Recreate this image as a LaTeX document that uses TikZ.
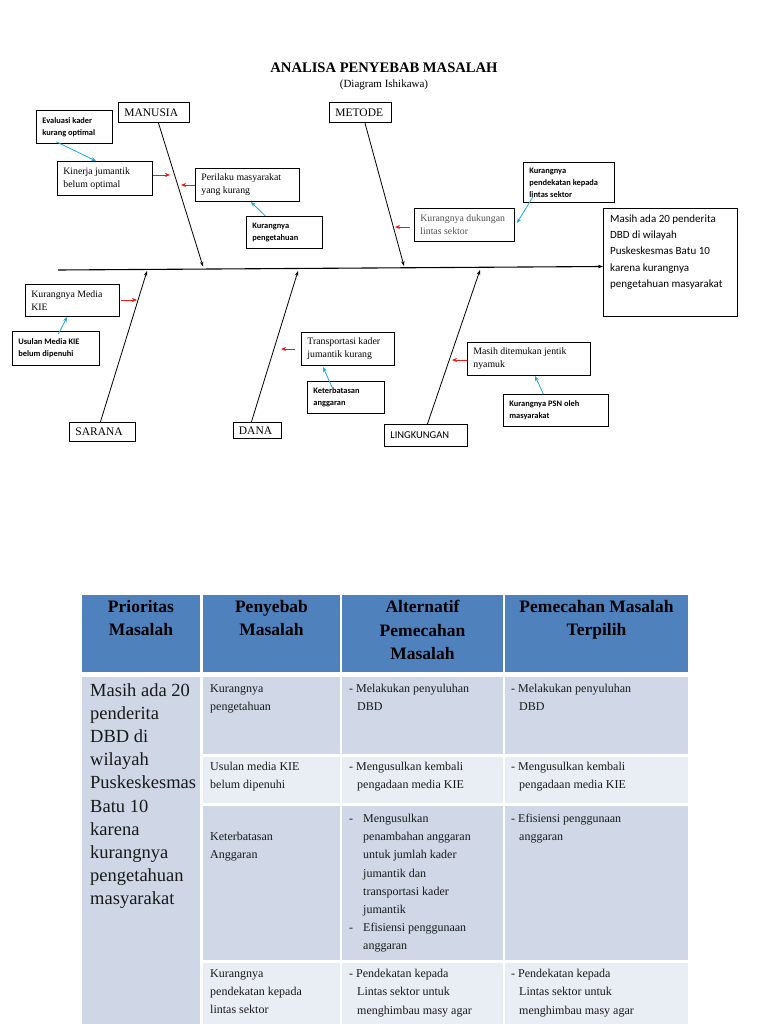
\documentclass[tikz,border=0pt]{standalone}
\usepackage{fontspec}
\setmainfont{Liberation Serif}
\newfontfamily\calib{Carlito}
\usetikzlibrary{arrows.meta}
\definecolor{hdrblue}{HTML}{4F81BD}
\definecolor{rowdark}{HTML}{D0D8E8}
\definecolor{rowlight}{HTML}{E9EDF4}
\definecolor{firstcol}{HTML}{CFD6E6}
\definecolor{cyanb}{HTML}{1AA7E0}
\definecolor{redb}{HTML}{F01818}
\definecolor{txtgray}{HTML}{505050}
\begin{document}
\begin{tikzpicture}[x=1pt,y=-1pt,
  box/.style={draw=black, line width=0.8pt, anchor=north west, inner xsep=6pt, inner ysep=0pt, align=flush left},
  tnr/.style={font=\fontsize{9.8}{13.3}\selectfont},
  cal/.style={font=\calib\bfseries\fontsize{8.4}{12}\selectfont},
  capt/.style={font=\fontsize{11.5}{13}\selectfont},
  bone/.style={line width=0.8pt, -{Stealth[length=5pt,width=3.5pt]}},
  redarr/.style={draw=redb, line width=0.8pt, -{Stealth[length=5pt,width=4pt]}},
  bluearr/.style={draw=cyanb, line width=0.8pt, -{Stealth[length=5pt,width=4pt]}},
  th/.style={anchor=north, inner sep=0pt, align=center, font=\bfseries\fontsize{17.5}{23.5}\selectfont},
  tb/.style={anchor=north west, inner sep=0pt, align=left, text=black!90, font=\fontsize{12}{18.3}\selectfont}
]
\useasboundingbox (0,0) rectangle (768,1024);
\clip (0,0) rectangle (768,1024);

% ---------- title ----------
\node[font=\bfseries\fontsize{14.6}{16}\selectfont] (title) at (384,68) {ANALISA PENYEBAB MASALAH};
\node[font=\fontsize{11}{13}\selectfont] (subtitle) at (384,85) {(Diagram Ishikawa)};

% ---------- boxes ----------
\node[box, capt, text width=59pt, minimum width=71pt, minimum height=20pt] (manusia) at (118,102) {MANUSIA};
\node[box, capt, text width=50pt, minimum width=62pt, minimum height=20pt] (metode) at (329,102) {METODE};
\node[box, capt, text width=54pt, minimum width=66pt, minimum height=19pt] (sarana) at (69,422) {SARANA};
\node[box, capt, text width=37pt, minimum width=48pt, minimum height=16pt, inner xsep=5.5pt] (dana) at (233,422) {DANA};
\node[box, font=\calib\fontsize{10.5}{12}\selectfont, text width=71pt, minimum width=83pt, minimum height=22pt] (lingk) at (384,424) {LINGKUNGAN};

\node[box, cal, text width=64pt, minimum width=76pt, minimum height=33pt] (evaluasi) at (36,110) {Evaluasi kader\\kurang optimal};
\node[box, tnr, text width=83pt, minimum width=95pt, minimum height=34pt] (kinerja) at (57,161) {Kinerja jumantik\\belum optimal};
\node[box, tnr, text width=92pt, minimum width=104pt, minimum height=33pt] (perilaku) at (195,168) {Perilaku masyarakat\\yang kurang};
\node[box, cal, text width=64pt, minimum width=76pt, minimum height=32pt] (kpeng) at (246,216) {Kurangnya\\pengetahuan};
\node[box, tnr, text=txtgray, text width=88pt, minimum width=100pt, minimum height=33pt] (kdukung) at (414,208) {Kurangnya dukungan\\lintas sektor};
\node[box, cal, text width=79pt, minimum width=91pt, minimum height=40pt] (kpendek) at (523,162) {Kurangnya\\pendekatan kepada\\lintas sektor};
\node[box, tnr, text width=82pt, minimum width=94pt, minimum height=32pt] (kmedia) at (25,284) {Kurangnya Media\\KIE};
\node[box, cal, text width=75pt, minimum width=87pt, minimum height=34pt] (usulan) at (12,331) {Usulan Media KIE\\belum dipenuhi};
\node[box, tnr, text width=81pt, minimum width=93pt, minimum height=33pt] (transp) at (301,332) {Transportasi kader\\jumantik kurang};
\node[box, cal, text width=65pt, minimum width=77pt, minimum height=32pt] (keterb) at (307,381) {Keterbatasan\\anggaran};
\node[box, tnr, text width=111pt, minimum width=123pt, minimum height=33pt] (masih) at (467,342) {Masih ditemukan jentik\\nyamuk};
\node[box, cal, text width=93pt, minimum width=105pt, minimum height=32pt] (psn) at (503,394) {Kurangnya PSN oleh\\masyarakat};

\node[box, minimum width=134pt, minimum height=108pt] (result) at (603,208) {};
\node[anchor=north west, inner sep=0pt, align=left, font=\calib\fontsize{11}{16.3}\selectfont] (resulttext) at (610,214.5)
  {Masih ada 20 penderita\\DBD di wilayah\\Puskeskesmas Batu 10\\karena kurangnya\\pengetahuan masyarakat};

% ---------- spine and bones ----------
\coordinate (spineL) at (58,270);
\coordinate (mEnd) at (203,266.5);
\coordinate (tEnd) at (404,266);
\coordinate (sEnd) at (147,271);
\coordinate (dEnd) at (298,271);
\coordinate (lEnd) at (480,270);
\draw[line width=1.1pt, -{Stealth[length=5pt,width=3.5pt]}] (spineL) -- (result.west |- 0,266.5);
\draw[bone] ([xshift=4.5pt]manusia.south) -- (mEnd);
\draw[bone] ([xshift=4.5pt]metode.south) -- (tEnd);
\draw[bone] ([xshift=-2pt]sarana.north) -- (sEnd);
\draw[bone] ([xshift=-6pt]dana.north) -- (dEnd);
\draw[bone] ([xshift=1.5pt]lingk.north) -- (lEnd);

% ---------- red arrows ----------
\coordinate (r1) at (170,175);
\coordinate (r2) at (181,185);
\coordinate (r3) at (395,227);
\coordinate (r4) at (137,300);
\coordinate (r5) at (281,349);
\coordinate (r6) at (452,360);
\draw[redarr] (kinerja.east |- r1) -- (r1);
\draw[redarr] (perilaku.west |- r2) -- (r2);
\draw[redarr] ([xshift=-4pt]kdukung.west |- r3) -- (r3);
\draw[redarr] ([xshift=1pt]kmedia.east |- r4) -- (r4);
\draw[redarr] ([xshift=-6pt]transp.west |- r5) -- (r5);
\draw[redarr] (masih.west |- r6) -- (r6);

% ---------- blue arrows ----------
\coordinate (b1) at (96,161);
\coordinate (b2) at (251,202);
\coordinate (b3) at (517,223);
\coordinate (b4) at (67,317);
\coordinate (b5) at (323,367);
\coordinate (b6) at (535,376);
\draw[bluearr] ([xshift=-18pt,yshift=2pt]evaluasi.south) -- (b1);
\draw[bluearr] ([xshift=-19pt]kpeng.north) -- (b2);
\draw[bluearr] ([xshift=-36pt,yshift=6pt]kpendek.south) -- (b3);
\draw[bluearr] ([xshift=2.5pt,yshift=-3pt]usulan.north) -- (b4);
\draw[bluearr] ([xshift=-13.5pt,yshift=-7pt]keterb.north) -- (b5);
\draw[bluearr] ([xshift=-12.5pt]psn.north) -- (b6);

% ---------- table ----------
\fill[hdrblue] (82,595) rectangle (200,672);
\fill[hdrblue] (203,595) rectangle (340,672);
\fill[hdrblue] (342,595) rectangle (503,672);
\fill[hdrblue] (505,595) rectangle (688,672);
\fill[firstcol] (82,677) rectangle (200,1030);
\fill[rowdark] (203,677) rectangle (340,754);
\fill[rowdark] (342,677) rectangle (503,754);
\fill[rowdark] (505,677) rectangle (688,754);
\fill[rowlight] (203,757) rectangle (340,803);
\fill[rowlight] (342,757) rectangle (503,803);
\fill[rowlight] (505,757) rectangle (688,803);
\fill[rowdark] (203,806) rectangle (340,960);
\fill[rowdark] (342,806) rectangle (503,960);
\fill[rowdark] (505,806) rectangle (688,960);
\fill[rowlight] (203,963) rectangle (340,1030);
\fill[rowlight] (342,963) rectangle (503,1030);
\fill[rowlight] (505,963) rectangle (688,1030);

\node[th] (h1) at (141,600) {Prioritas\\Masalah};
\node[th] (h2) at (271.5,600) {Penyebab\\Masalah};
\node[th] (h3) at (422.5,600) {Alternatif\\Pemecahan\\Masalah};
\node[th] (h4) at (596.5,600) {Pemecahan Masalah\\Terpilih};

\node[anchor=north west, inner sep=0pt, align=left, text=black!90, font=\fontsize{18.5}{23.2}\selectfont] (prio) at (90,683)
  {Masih ada 20\\penderita\\DBD di\\wilayah\\Puskeskesmas\\Batu 10\\karena\\kurangnya\\pengetahuan\\masyarakat};

\node[tb] (c21) at (210,684) {Kurangnya\\pengetahuan};
\node[tb] (c31) at (349,684) {- Melakukan penyuluhan\\\hspace*{8pt}DBD};
\node[tb] (c41) at (511,684) {- Melakukan penyuluhan\\\hspace*{8pt}DBD};

\node[tb] (c22) at (210,762) {Usulan media KIE\\belum dipenuhi};
\node[tb] (c32) at (349,762) {- Mengusulkan kembali\\\hspace*{8pt}pengadaan media KIE};
\node[tb] (c42) at (511,762) {- Mengusulkan kembali\\\hspace*{8pt}pengadaan media KIE};

\node[tb] (c23) at (210,832) {Keterbatasan\\Anggaran};
\node[tb, font=\fontsize{12}{18.2}\selectfont] (c33) at (349,814) {\makebox[14pt][l]{-}Mengusulkan\\\hspace*{14pt}penambahan anggaran\\\hspace*{14pt}untuk jumlah kader\\\hspace*{14pt}jumantik dan\\\hspace*{14pt}transportasi kader\\\hspace*{14pt}jumantik\\\makebox[14pt][l]{-}Efisiensi penggunaan\\\hspace*{14pt}anggaran};
\node[tb] (c43) at (511,814) {- Efisiensi penggunaan\\\hspace*{8pt}anggaran};

\node[tb] (c24) at (210,969) {Kurangnya\\pendekatan kepada\\lintas sektor};
\node[tb] (c34) at (349,969) {- Pendekatan kepada\\\hspace*{8pt}Lintas sektor untuk\\\hspace*{8pt}menghimbau masy agar};
\node[tb] (c44) at (511,969) {- Pendekatan kepada\\\hspace*{8pt}Lintas sektor untuk\\\hspace*{8pt}menghimbau masy agar};
\end{tikzpicture}
\end{document}
